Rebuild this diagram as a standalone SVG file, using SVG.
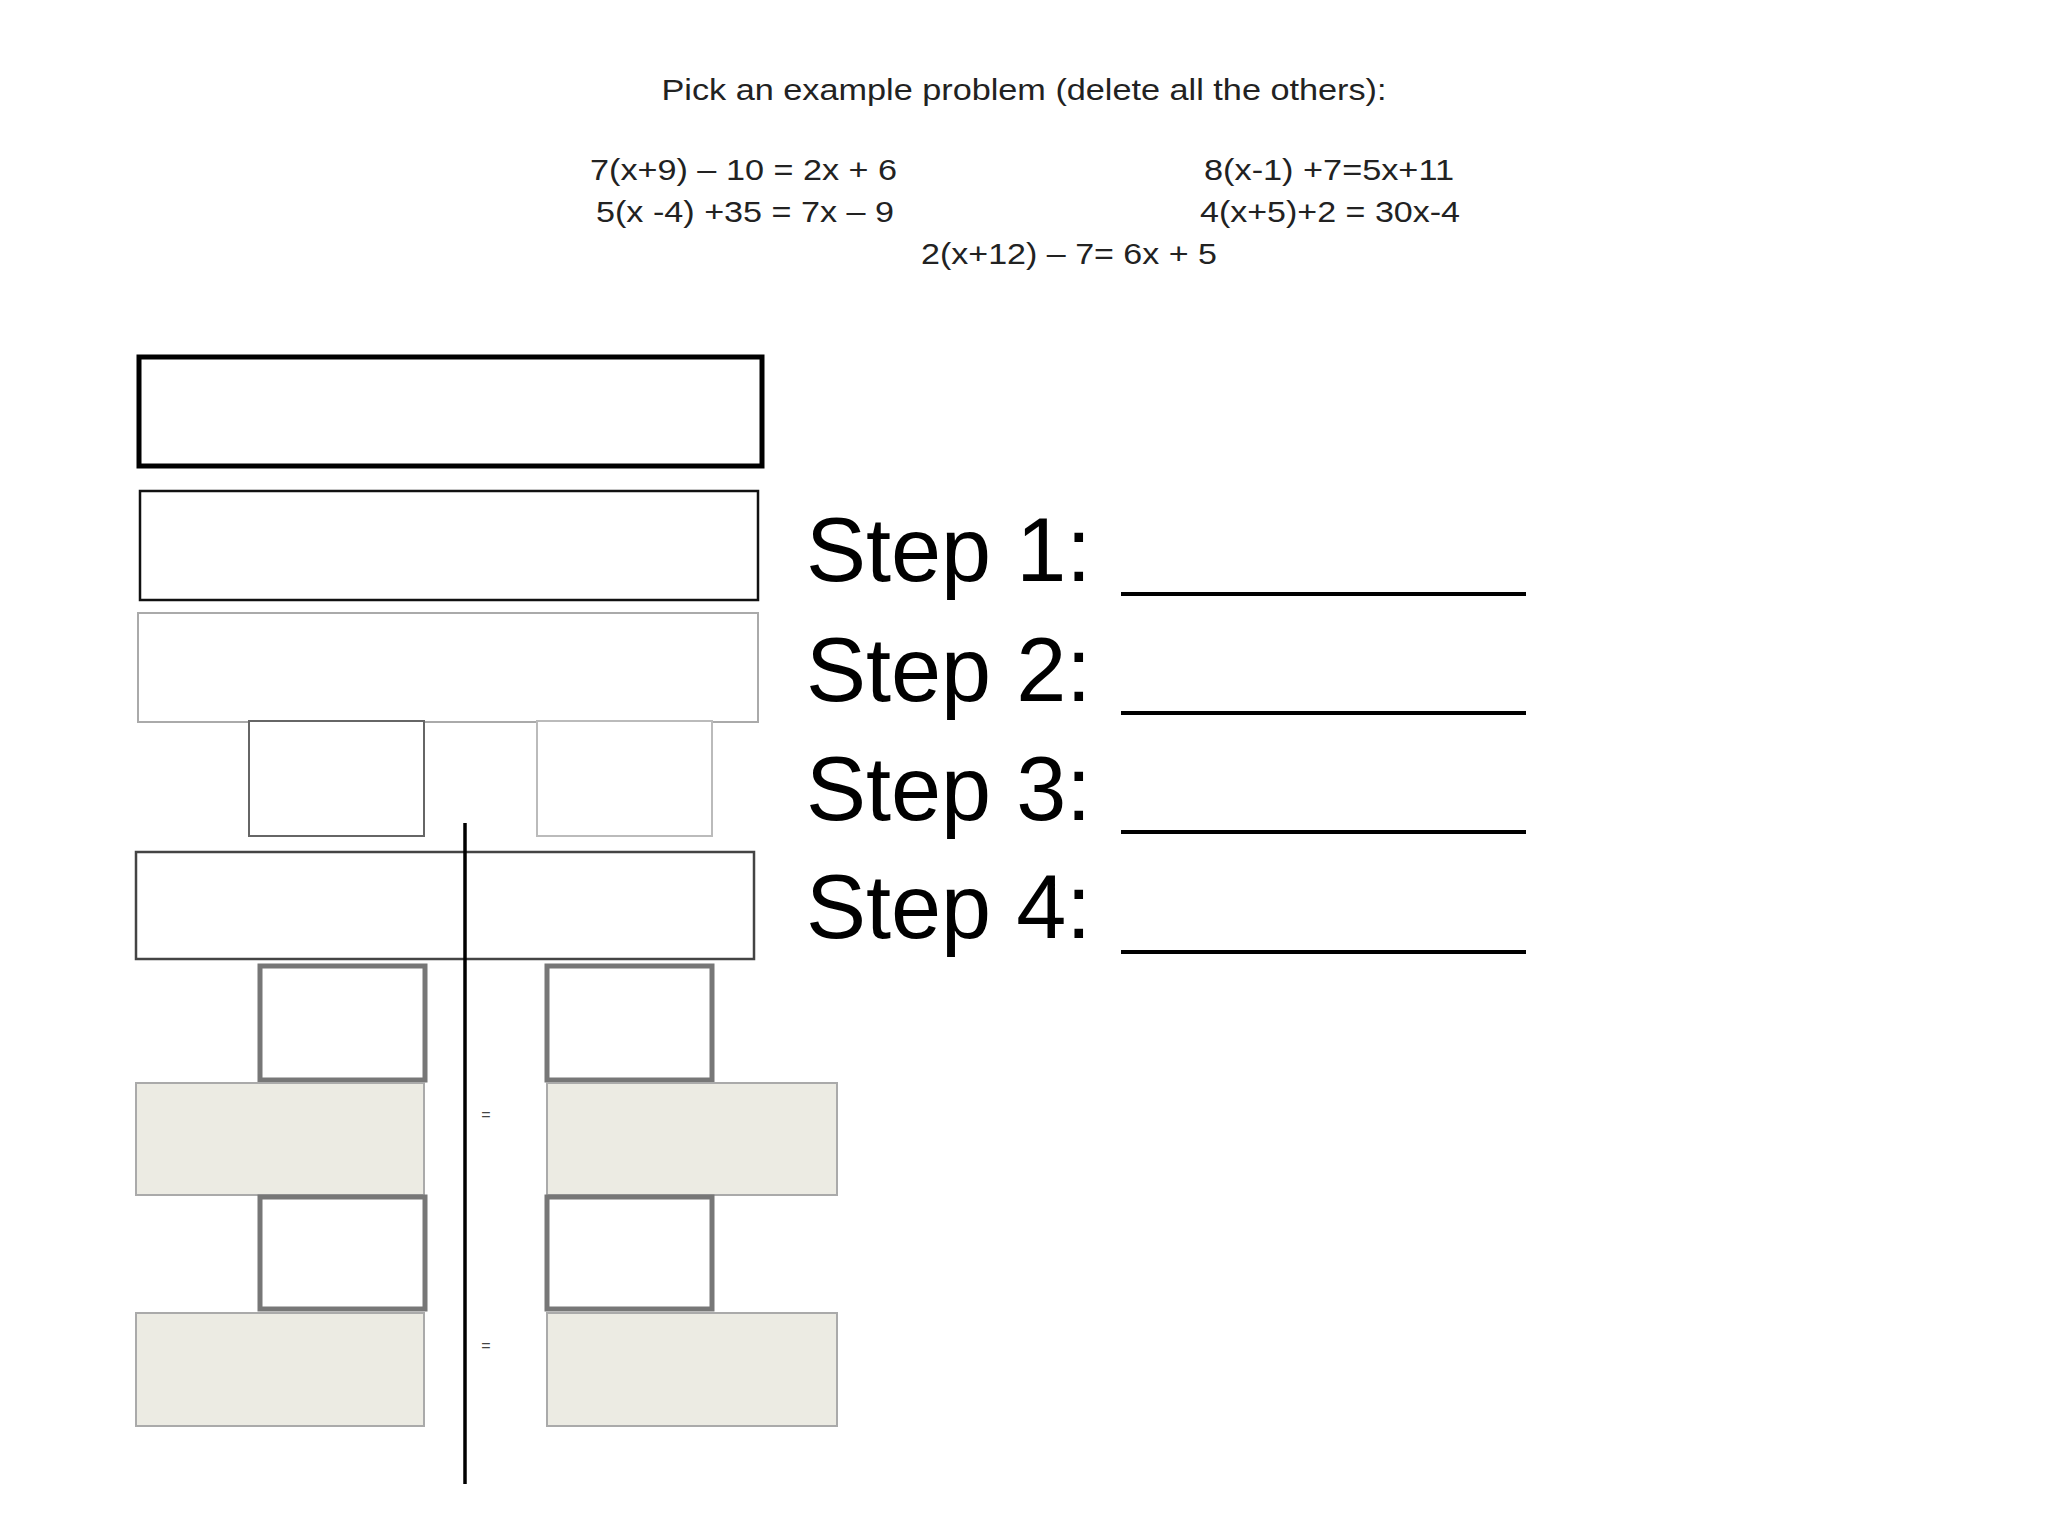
<svg xmlns="http://www.w3.org/2000/svg" width="2048" height="1536" viewBox="0 0 2048 1536">
<style>
.t{font-family:"Liberation Sans",Arial,sans-serif;fill:#222;font-size:29px}
.s{font-family:"Liberation Sans",Arial,sans-serif;fill:#000;font-size:90px}
.u{stroke:#000;stroke-width:4}
.sm{fill:#fff;stroke:#777;stroke-width:5}
.bg{fill:#ecebe3;stroke:#aaa;stroke-width:2}
.eq{font-family:"Liberation Sans",Arial,sans-serif;font-size:16px;fill:#444}
</style>
<rect width="2048" height="1536" fill="#fff"/>
<g id="header">
<text class="t" x="1024" y="100" text-anchor="middle" textLength="725" lengthAdjust="spacingAndGlyphs">Pick an example problem (delete all the others):</text>
<text class="t" x="590" y="180" textLength="307" lengthAdjust="spacingAndGlyphs">7(x+9) – 10 = 2x + 6</text>
<text class="t" x="1204" y="180" textLength="250" lengthAdjust="spacingAndGlyphs">8(x-1) +7=5x+11</text>
<text class="t" x="596" y="222" textLength="298" lengthAdjust="spacingAndGlyphs">5(x -4) +35 = 7x – 9</text>
<text class="t" x="1200" y="222" textLength="260" lengthAdjust="spacingAndGlyphs">4(x+5)+2 = 30x-4</text>
<text class="t" x="921" y="264" textLength="296" lengthAdjust="spacingAndGlyphs">2(x+12) – 7= 6x + 5</text>
</g>
<g id="boxes">
<rect id="box1" x="139" y="357" width="623" height="109" fill="#fff" stroke="#000" stroke-width="5"/>
<rect id="box2" x="140" y="491" width="618" height="109" fill="#fff" stroke="#111" stroke-width="2.5"/>
<rect id="box3" x="138" y="613" width="620" height="109" fill="#fff" stroke="#aaa" stroke-width="2"/>
<rect id="box4a" x="249" y="721" width="175" height="115" fill="#fff" stroke="#666" stroke-width="2"/>
<rect id="box4b" x="537" y="721" width="175" height="115" fill="#fff" stroke="#bbb" stroke-width="2"/>
<rect id="box5" x="136" y="852" width="618" height="107" fill="#fff" stroke="#444" stroke-width="2.5"/>
<rect id="sm1a" x="260" y="966" width="165" height="114" class="sm"/>
<rect id="sm1b" x="547" y="966" width="165" height="114" class="sm"/>
<rect id="bg1a" x="136" y="1083" width="288" height="112" class="bg"/>
<rect id="bg1b" x="547" y="1083" width="290" height="112" class="bg"/>
<rect id="sm2a" x="260" y="1197" width="165" height="112" class="sm"/>
<rect id="sm2b" x="547" y="1197" width="165" height="112" class="sm"/>
<rect id="bg2a" x="136" y="1313" width="288" height="113" class="bg"/>
<rect id="bg2b" x="547" y="1313" width="290" height="113" class="bg"/>
<text class="eq" x="486" y="1120" text-anchor="middle">=</text>
<text class="eq" x="486" y="1351" text-anchor="middle">=</text>
</g>
<g id="connectors">
<line x1="465" y1="823" x2="465" y2="1484" stroke="#000" stroke-width="3.5"/>
</g>
<g id="steps">
<text class="s" x="806" y="581">Step 1:</text>
<text class="s" x="806" y="701">Step 2:</text>
<text class="s" x="806" y="820">Step 3:</text>
<text class="s" x="806" y="938">Step 4:</text>
<line class="u" x1="1121" y1="594" x2="1526" y2="594"/>
<line class="u" x1="1121" y1="713" x2="1526" y2="713"/>
<line class="u" x1="1121" y1="832" x2="1526" y2="832"/>
<line class="u" x1="1121" y1="952" x2="1526" y2="952"/>
</g>
</svg>
